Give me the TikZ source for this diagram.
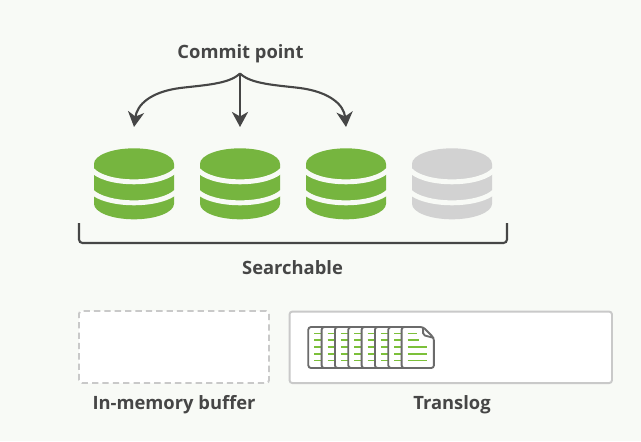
\documentclass[tikz,border=0pt]{standalone}
\usepackage{fontspec}
\setmainfont{Open Sans}
\usetikzlibrary{arrows.meta}
\definecolor{paper}{HTML}{F8FAF6}
\definecolor{ink}{HTML}{464646}
\definecolor{segon}{HTML}{76B53F}
\definecolor{segoff}{HTML}{D2D2D2}
\definecolor{rim}{HTML}{C9C9C9}
\definecolor{sheet}{HTML}{6B6B6B}
\definecolor{logline}{HTML}{7CC03A}
\tikzset{
	label/.style={text=ink,font=\bfseries\fontsize{10.45}{12}\selectfont,inner sep=0pt},
	box/.style={draw=rim,fill=white,line width=1.1pt,rounded corners=1.6pt,inner sep=0pt},
	pointer/.style={draw=ink,line width=1.2pt,-{Stealth[length=8.6pt,width=9.2pt,inset=2.6pt]}},
	pics/segment/.style={code={
		\fill[#1] (-40,0) .. controls (-40,-8.5) and (-22,-15.5) .. (0,-15.5)
			.. controls (22,-15.5) and (40,-8.5) .. (40,0) -- (40,40)
			.. controls (40,48.5) and (22,55.5) .. (0,55.5)
			.. controls (-22,55.5) and (-40,48.5) .. (-40,40) -- cycle;
		\draw[paper,line width=2.8pt] (-42,6) .. controls (-36,13) and (-20,18) .. (0,18)
			.. controls (20,18) and (36,13) .. (42,6);
		\draw[paper,line width=2.8pt] (-42,28) .. controls (-36,34) and (-20,39) .. (0,39)
			.. controls (20,39) and (36,34) .. (42,28);
		\coordinate (-top) at (0,-36.8);
	}},
	pics/logpage/.style={code={
		\filldraw[draw=sheet,fill=white,line width=1.05pt,rounded corners=1.5pt]
			(0,0) -- (21.5,0) -- (32.3,11) -- (32.3,41) -- (0,41) -- cycle;
		\draw[sheet,line width=1.05pt,rounded corners=1pt] (21.5,0) -- (21.5,8) -- (32.3,11);
		\draw[logline,line width=1.05pt] (6,6.5) -- (15,6.5);
		\draw[logline,line width=1.05pt] (6,13) -- (17.5,13);
		\foreach \y in {20,27,33.5}
			\draw[logline,line width=1.05pt] (6,\y) -- (25.5,\y);
	}}
}
\begin{document}
\begin{tikzpicture}[x=0.02cm,y=-0.02cm]
		\fill[paper] (0,0) rectangle (641,441);
		\useasboundingbox (0,0) rectangle (641,441);
		% segments
		\pic (seg1) at (134,163.8) {segment=segon};
		\pic (seg2) at (240,163.8) {segment=segon};
		\pic (seg3) at (346,163.8) {segment=segon};
		\pic (seg4) at (452,163.8) {segment=segoff};
		\begin{scope}[every node/.style={label}]
			\node (commit) at (240.5,53.5) {Commit point};
			\node (search) at (292.5,267.5) {Searchable};
			\node (buflabel) at (174,405) {In-memory buffer};
			\node (loglabel) at (452,405) {Translog};
		\end{scope}
		% commit point arrows
		\coordinate (fork) at (240,73.5);
		\path[pointer] (fork) .. controls (229,84) and (205,85) .. (180,88)
			.. controls (150,92) and (137,105) .. (seg1-top);
		\path[pointer] (fork) -- (seg2-top);
		\path[pointer] (fork) .. controls (251,84) and (275,85) .. (300,88)
			.. controls (330,92) and (344,105) .. (seg3-top);
		% bracket
		\coordinate (brleft) at (79,223);
		\coordinate (brright) at (507,223);
		\coordinate (brmid) at (293,243);
		\draw[ink,line width=1.2pt,rounded corners=2pt] (brleft) |- (brmid) -| (brright);
		% boxes
		\node[box,dash pattern=on 3.6pt off 2.3pt,minimum width=3.8cm,minimum height=1.44cm] (buffer) at (174,347) {};
		\node[box,minimum width=6.45cm,minimum height=1.43cm] (translog) at (450.75,347.3) {};
		\foreach \i in {0,...,7}
			\pic (page\i) at ({308.3+13.33*\i},327) {logpage};
	\end{tikzpicture}
\end{document}
